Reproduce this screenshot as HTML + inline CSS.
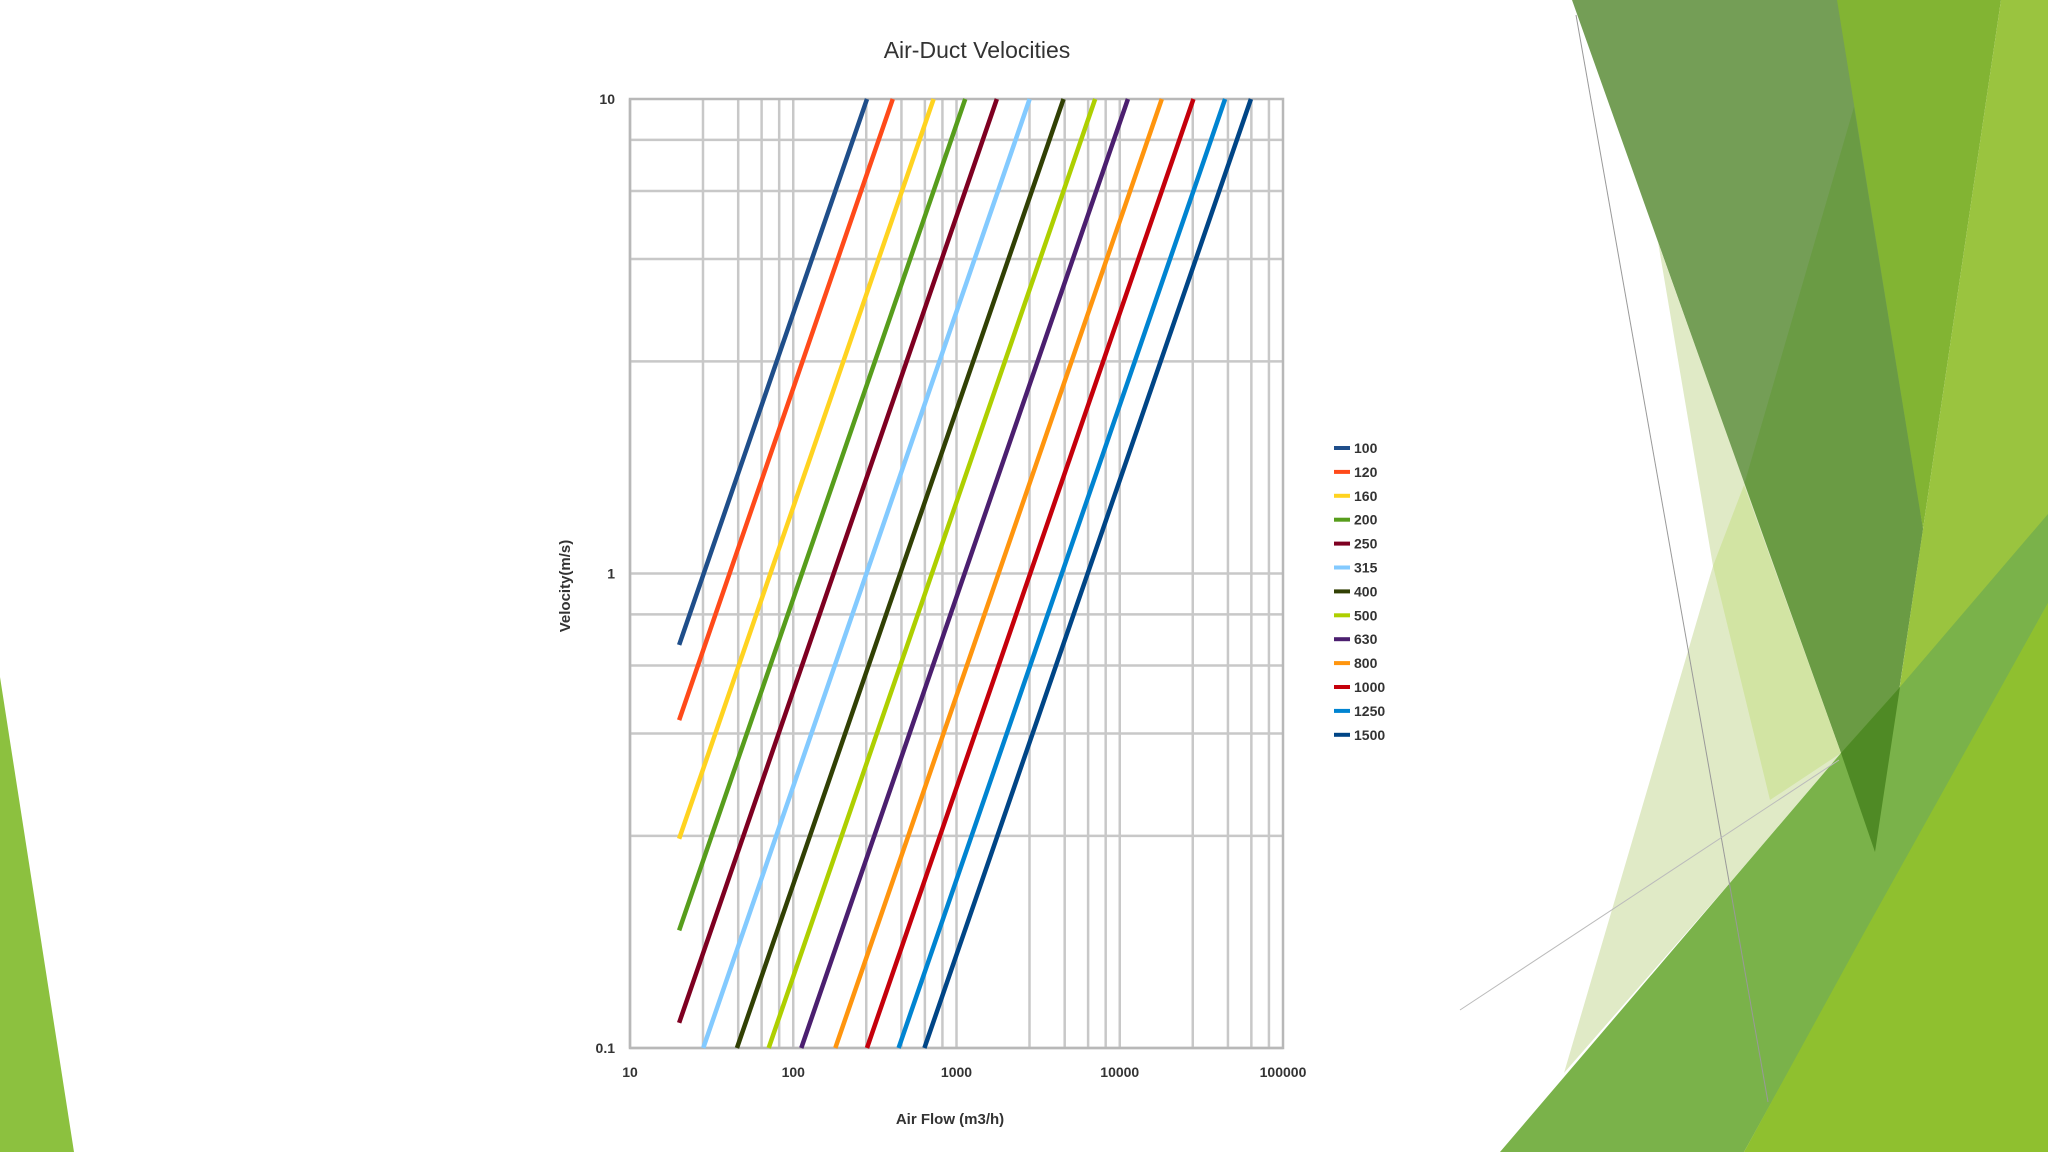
<!DOCTYPE html>
<html><head><meta charset="utf-8"><style>
html,body{margin:0;padding:0;background:#fff;}
svg{display:block;font-family:"Liberation Sans",sans-serif;}
</style></head><body>
<svg id="chart" width="2048" height="1152" viewBox="0 0 2048 1152">
<g>
<polygon points="0,677 74,1152 0,1152" fill="#8cc13f"/>
<polygon points="1572,0 1847,0 1923,529 1875,852" fill="#749e56"/>
<polygon points="1854,107 1923,529 1875,852 1744,485" fill="#6a9b44"/>
<polygon points="1837,0 2001,0 1923,529" fill="#82b433"/>
<polygon points="2001,0 2048,0 2048,1152 1831,1152 1923,529" fill="#9ac43f"/>
<polygon points="1658,242 1841,753 1728,885 1564,1073 1713,566" fill="#e0eac6"/>
<polygon points="1744,485 1841,753 1770,800 1713,566" fill="#d2e4a3"/>
<polygon points="1900,687 2048,514 2048,603 1744,1152 1500,1152 1841,753" fill="#7ab24a"/>
<polygon points="1841,753 1900,687 1875,852" fill="#4f8a25"/>
<polygon points="2048,603 2048,1152 1744,1152 1864,933" fill="#8fc02f"/>
<line x1="1576" y1="15" x2="1768" y2="1102" stroke="#999" stroke-width="1"/>
<line x1="1460" y1="1010" x2="1839" y2="760" stroke="#bbb" stroke-width="1"/>
</g>
<text x="977" y="58" text-anchor="middle" font-size="23" fill="#333">Air-Duct Velocities</text>
<g id="grid"></g>
<g id="series"></g>
<g id="axes"></g>
<g id="legend"></g>
<text x="0" y="0" transform="translate(570,586) rotate(-90)" text-anchor="middle" font-size="15" font-weight="bold" fill="#333">Velocity(m/s)</text>
<text x="950" y="1124" text-anchor="middle" font-size="15" font-weight="bold" fill="#333">Air Flow (m3/h)</text>
</svg>
<script>
const seriesNames = ["100","120","160","200","250","315","400","500","630","800","1000","1250","1500"];
const seriesColors = ["#1f4e8a","#ff4a1a","#ffd320","#579d1c","#7e0021","#83caff","#314004","#aecf00","#4b1f6f","#ff950e","#c5000b","#0084d1","#004586"];
const flowStart = [20,20,20,20,20,28.1,45.2,70.7,112,181,283,442,636];
const velStart = [0.707,0.491,0.276,0.177,0.113,0.1,0.1,0.1,0.1,0.1,0.1,0.1,0.1];
const flowEnd = [283,407,724,1131,1767,2806,4524,7069,11222,18096,28274,44179,63617];
const velEnd = [10,10,10,10,10,10,10,10,10,10,10,10,10];
const xTicks = [10,100,1000,10000,100000];
const xTickLabels = ["10","100","1000","10000","100000"];
const yTicks = [0.1,1,10];
const yTickLabels = ["0.1","1","10"];
const minorSteps = [2.8,4.6,6.4,8.2];

const NS="http://www.w3.org/2000/svg";
const L=630,R=1283,T=99,B=1048;
function xs(v){return L+(Math.log10(v)-1)/4*(R-L);}
function ys(v){return B-(Math.log10(v)+1)/2*(B-T);}
function mk(tag,attrs,parent){const e=document.createElementNS(NS,tag);for(const k in attrs)e.setAttribute(k,attrs[k]);parent.appendChild(e);return e;}
const grid=document.getElementById('grid');
for(let d=10;d<100000;d*=10){
  for(const m of [1].concat(minorSteps)){
    const x=xs(d*m);
    const ln=mk('line',{x1:x,y1:T,x2:x,y2:B,stroke:'#c8c8c8','stroke-width':2.5},grid);
    
    
  }
}
for(let d=0.1;d<10;d*=10){
  for(const m of [1].concat(minorSteps)){
    const y=ys(d*m);
    const ln=mk('line',{x1:L,y1:y,x2:R,y2:y,stroke:'#c8c8c8','stroke-width':2.5},grid);
    
    
  }
}
const fr=mk('rect',{x:L,y:T,width:R-L,height:B-T,fill:'none',stroke:'#b8b8b8','stroke-width':2.5},grid);


const ser=document.getElementById('series');
seriesNames.forEach((n,i)=>{
  const ln=mk('line',{x1:xs(flowStart[i]),y1:ys(velStart[i]),x2:xs(flowEnd[i]),y2:ys(velEnd[i]),stroke:seriesColors[i],'stroke-width':4.5},ser);
  
  
});
const axes=document.getElementById('axes');
xTicks.forEach((t,i)=>{
  const tx=mk('text',{x:xs(t),y:1077,'text-anchor':'middle','font-size':14,'font-weight':'bold',fill:'#333'},axes);
  tx.textContent=xTickLabels[i];
  
  
});
yTicks.forEach((t,i)=>{
  const tx=mk('text',{x:615,y:ys(t)+5,'text-anchor':'end','font-size':14,'font-weight':'bold',fill:'#333'},axes);
  tx.textContent=yTickLabels[i];
  
  
});
const leg=document.getElementById('legend');
seriesNames.forEach((n,i)=>{
  const y=448+i*23.9;
  const g=mk('g',{},leg);
  
  
  mk('line',{x1:1334,y1:y,x2:1350,y2:y,stroke:seriesColors[i],'stroke-width':4},g);
  const tx=mk('text',{x:1354,y:y+5,'font-size':14,'font-weight':'bold',fill:'#333'},g);
  tx.textContent=n;
});
</script>
</body></html>
